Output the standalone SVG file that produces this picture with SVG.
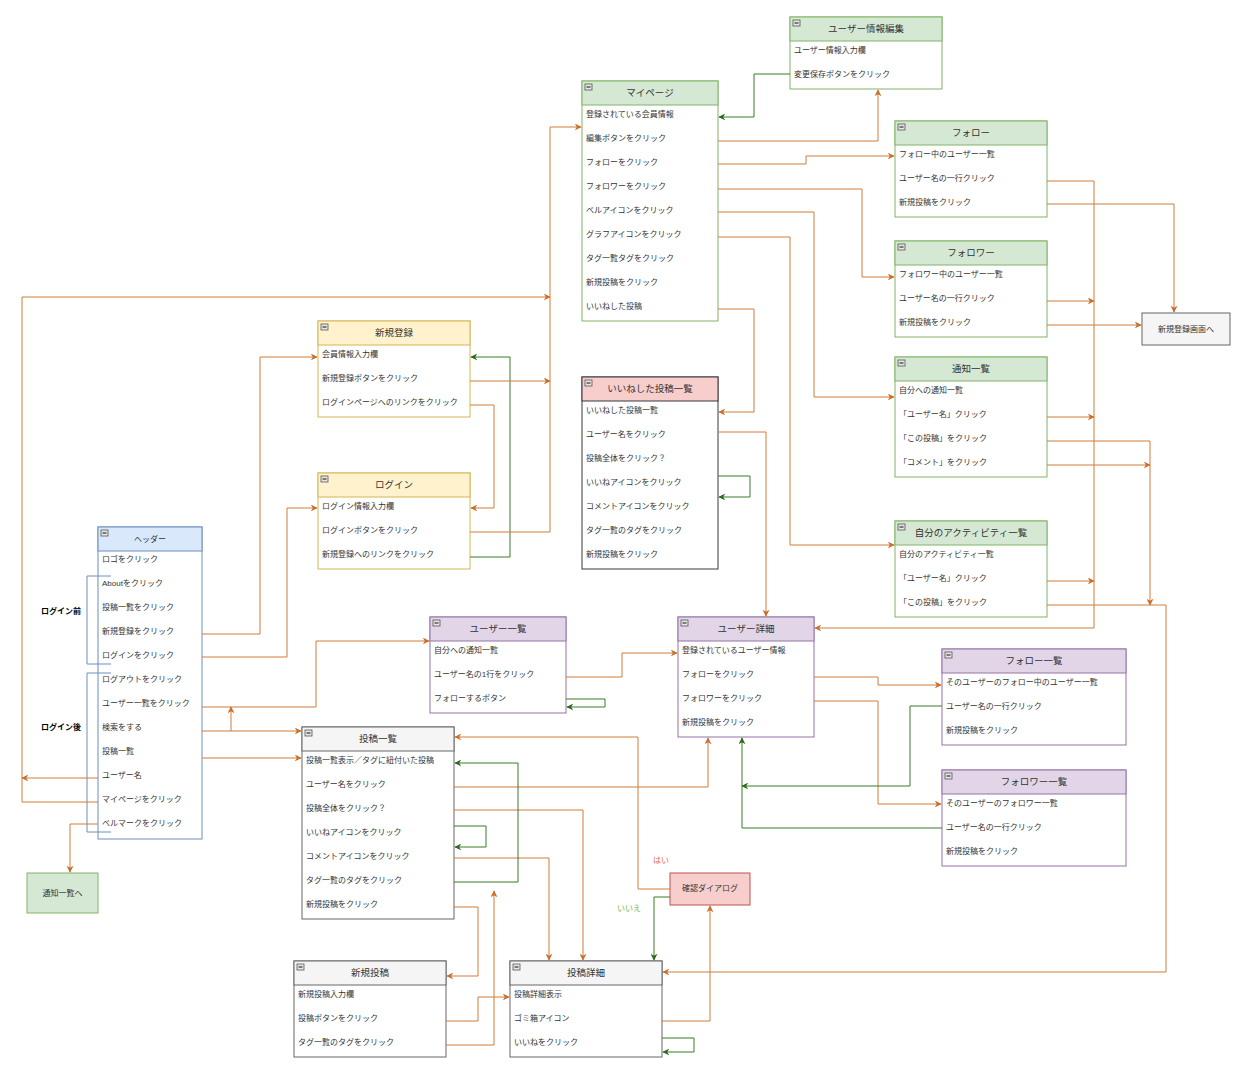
<svg xmlns="http://www.w3.org/2000/svg" width="1246" height="1072" viewBox="0 0 1246 1072">
<style>
text{font-family:"Liberation Sans","Noto Sans CJK JP",sans-serif;fill:#333}
.r{font-size:8px}
.t{font-size:9.5px;text-anchor:middle}
.ts{font-size:8px;text-anchor:middle}
.lbl{font-size:8px;font-weight:bold;fill:#000;text-anchor:middle}
.g{stroke:#82b366}.gh{fill:#d5e8d4;stroke:#82b366}
.y{stroke:#d6b656}.yh{fill:#fff2cc;stroke:#d6b656}
.b{stroke:#6c8ebf}.bh{fill:#dae8fc;stroke:#6c8ebf}
.p{stroke:#9673a6}.ph{fill:#e1d5e7;stroke:#9673a6}
.k{stroke:#666}.kh{fill:#f5f5f5;stroke:#666}
.d{stroke:#36393d}.dh{fill:#f8cecc;stroke:#36393d}
.body{fill:#fff;stroke-width:1}
.ic{fill:#e6e6e6;stroke:#555;stroke-width:0.8}
.icl{stroke:#333;stroke-width:1.2}
#edges path{fill:none;stroke-width:1}
.eo{stroke:#d07d3b;marker-end:url(#ao)}
.eg{stroke:#3b7a26;marker-end:url(#ag)}
</style>
<defs>
<marker id="ao" viewBox="0 0 10 10" refX="9" refY="5" markerWidth="7" markerHeight="7" orient="auto" markerUnits="userSpaceOnUse"><path d="M0,0 L10,5 L0,10 L3,5 z" fill="#cc6f2c"/></marker>
<marker id="ag" viewBox="0 0 10 10" refX="9" refY="5" markerWidth="7" markerHeight="7" orient="auto" markerUnits="userSpaceOnUse"><path d="M0,0 L10,5 L0,10 L3,5 z" fill="#2d6a1f"/></marker>
</defs>
<rect width="1246" height="1072" fill="#fff"/>

<!-- nodes -->
<g id="userEdit">
<rect class="body g" x="790" y="17" width="152" height="72"/>
<rect class="gh" x="790" y="17" width="152" height="24"/>
<rect class="ic" x="793" y="20" width="7" height="6"/><line class="icl" x1="794.5" y1="23" x2="798.5" y2="23"/>
<text class="t" x="866" y="32">ユーザー情報編集</text>
<text class="r" x="794" y="53">ユーザー情報入力欄</text>
<text class="r" x="794" y="77">変更保存ボタンをクリック</text>
</g>

<g id="mypage">
<rect class="body g" x="582" y="81" width="136" height="240"/>
<rect class="gh" x="582" y="81" width="136" height="24"/>
<rect class="ic" x="585" y="84" width="7" height="6"/><line class="icl" x1="586.5" y1="87" x2="590.5" y2="87"/>
<text class="t" x="650" y="96">マイページ</text>
<text class="r" x="586" y="117">登録されている会員情報</text>
<text class="r" x="586" y="141">編集ボタンをクリック</text>
<text class="r" x="586" y="165">フォローをクリック</text>
<text class="r" x="586" y="189">フォロワーをクリック</text>
<text class="r" x="586" y="213">ベルアイコンをクリック</text>
<text class="r" x="586" y="237">グラフアイコンをクリック</text>
<text class="r" x="586" y="261">タグ一覧タグをクリック</text>
<text class="r" x="586" y="285">新規投稿をクリック</text>
<text class="r" x="586" y="309">いいねした投稿</text>
</g>

<g id="follow">
<rect class="body g" x="895" y="121" width="152" height="96"/>
<rect class="gh" x="895" y="121" width="152" height="24"/>
<rect class="ic" x="898" y="124" width="7" height="6"/><line class="icl" x1="899.5" y1="127" x2="903.5" y2="127"/>
<text class="t" x="971" y="136">フォロー</text>
<text class="r" x="899" y="157">フォロー中のユーザー一覧</text>
<text class="r" x="899" y="181">ユーザー名の一行クリック</text>
<text class="r" x="899" y="205">新規投稿をクリック</text>
</g>

<g id="follower">
<rect class="body g" x="895" y="241" width="152" height="96"/>
<rect class="gh" x="895" y="241" width="152" height="24"/>
<rect class="ic" x="898" y="244" width="7" height="6"/><line class="icl" x1="899.5" y1="247" x2="903.5" y2="247"/>
<text class="t" x="971" y="256">フォロワー</text>
<text class="r" x="899" y="277">フォロワー中のユーザー一覧</text>
<text class="r" x="899" y="301">ユーザー名の一行クリック</text>
<text class="r" x="899" y="325">新規投稿をクリック</text>
</g>

<g id="notifList">
<rect class="body g" x="895" y="357" width="152" height="120"/>
<rect class="gh" x="895" y="357" width="152" height="24"/>
<rect class="ic" x="898" y="360" width="7" height="6"/><line class="icl" x1="899.5" y1="363" x2="903.5" y2="363"/>
<text class="t" x="971" y="372">通知一覧</text>
<text class="r" x="899" y="393">自分への通知一覧</text>
<text class="r" x="899" y="417">「ユーザー名」クリック</text>
<text class="r" x="899" y="441">「この投稿」をクリック</text>
<text class="r" x="899" y="465">「コメント」をクリック</text>
</g>

<g id="activity">
<rect class="body g" x="895" y="521" width="152" height="96"/>
<rect class="gh" x="895" y="521" width="152" height="24"/>
<rect class="ic" x="898" y="524" width="7" height="6"/><line class="icl" x1="899.5" y1="527" x2="903.5" y2="527"/>
<text class="t" x="971" y="536">自分のアクティビティ一覧</text>
<text class="r" x="899" y="557">自分のアクティビティ一覧</text>
<text class="r" x="899" y="581">「ユーザー名」クリック</text>
<text class="r" x="899" y="605">「この投稿」をクリック</text>
</g>

<g id="signupScreen">
<rect x="1142" y="313" width="88" height="32" fill="#f5f5f5" stroke="#666"/>
<text class="ts" x="1186" y="332">新規登録画面へ</text>
</g>

<g id="signup">
<rect class="body y" x="318" y="321" width="152" height="96"/>
<rect class="yh" x="318" y="321" width="152" height="24"/>
<rect class="ic" x="321" y="324" width="7" height="6"/><line class="icl" x1="322.5" y1="327" x2="326.5" y2="327"/>
<text class="t" x="394" y="336">新規登録</text>
<text class="r" x="322" y="357">会員情報入力欄</text>
<text class="r" x="322" y="381">新規登録ボタンをクリック</text>
<text class="r" x="322" y="405">ログインページへのリンクをクリック</text>
</g>

<g id="login">
<rect class="body y" x="318" y="473" width="152" height="96"/>
<rect class="yh" x="318" y="473" width="152" height="24"/>
<rect class="ic" x="321" y="476" width="7" height="6"/><line class="icl" x1="322.5" y1="479" x2="326.5" y2="479"/>
<text class="t" x="394" y="488">ログイン</text>
<text class="r" x="322" y="509">ログイン情報入力欄</text>
<text class="r" x="322" y="533">ログインボタンをクリック</text>
<text class="r" x="322" y="557">新規登録へのリンクをクリック</text>
</g>

<g id="header">
<rect class="body b" x="98" y="527" width="104" height="312"/>
<rect class="bh" x="98" y="527" width="104" height="24"/>
<rect class="ic" x="101" y="530" width="7" height="6"/><line class="icl" x1="102.5" y1="533" x2="106.5" y2="533"/>
<text class="ts" x="150" y="542">ヘッダー</text>
<text class="r" x="102" y="562">ロゴをクリック</text>
<text class="r" x="102" y="586">Aboutをクリック</text>
<text class="r" x="102" y="610">投稿一覧をクリック</text>
<text class="r" x="102" y="634">新規登録をクリック</text>
<text class="r" x="102" y="658">ログインをクリック</text>
<text class="r" x="102" y="682">ログアウトをクリック</text>
<text class="r" x="102" y="706">ユーザー一覧をクリック</text>
<text class="r" x="102" y="730">検索をする</text>
<text class="r" x="102" y="754">投稿一覧</text>
<text class="r" x="102" y="778">ユーザー名</text>
<text class="r" x="102" y="802">マイページをクリック</text>
<text class="r" x="102" y="826">ベルマークをクリック</text>
</g>

<g id="beforeLogin">
<path d="M111,576 H87 V664 H111" fill="none" stroke="#6c8ebf"/>
<text class="lbl" x="61" y="614">ログイン前</text>
</g>
<g id="afterLogin">
<path d="M111,673 H87 V832 H111" fill="none" stroke="#6c8ebf"/>
<text class="lbl" x="61" y="730">ログイン後</text>
</g>

<g id="notifTo">
<rect x="27" y="873" width="71" height="40" fill="#d5e8d4" stroke="#82b366"/>
<text class="ts" x="62.5" y="896">通知一覧へ</text>
</g>

<g id="liked">
<rect class="body d" x="582" y="377" width="136" height="192"/>
<rect class="dh" x="582" y="377" width="136" height="24"/>
<rect class="ic" x="585" y="380" width="7" height="6"/><line class="icl" x1="586.5" y1="383" x2="590.5" y2="383"/>
<text class="t" x="650" y="392">いいねした投稿一覧</text>
<text class="r" x="586" y="413">いいねした投稿一覧</text>
<text class="r" x="586" y="437">ユーザー名をクリック</text>
<text class="r" x="586" y="461">投稿全体をクリック？</text>
<text class="r" x="586" y="485">いいねアイコンをクリック</text>
<text class="r" x="586" y="509">コメントアイコンをクリック</text>
<text class="r" x="586" y="533">タグ一覧のタグをクリック</text>
<text class="r" x="586" y="557">新規投稿をクリック</text>
</g>

<g id="userList">
<rect class="body p" x="430" y="617" width="136" height="96"/>
<rect class="ph" x="430" y="617" width="136" height="24"/>
<rect class="ic" x="433" y="620" width="7" height="6"/><line class="icl" x1="434.5" y1="623" x2="438.5" y2="623"/>
<text class="t" x="498" y="632">ユーザー一覧</text>
<text class="r" x="434" y="653">自分への通知一覧</text>
<text class="r" x="434" y="677">ユーザー名の1行をクリック</text>
<text class="r" x="434" y="701">フォローするボタン</text>
</g>

<g id="userDetail">
<rect class="body p" x="678" y="617" width="136" height="120"/>
<rect class="ph" x="678" y="617" width="136" height="24"/>
<rect class="ic" x="681" y="620" width="7" height="6"/><line class="icl" x1="682.5" y1="623" x2="686.5" y2="623"/>
<text class="t" x="746" y="632">ユーザー詳細</text>
<text class="r" x="682" y="653">登録されているユーザー情報</text>
<text class="r" x="682" y="677">フォローをクリック</text>
<text class="r" x="682" y="701">フォロワーをクリック</text>
<text class="r" x="682" y="725">新規投稿をクリック</text>
</g>

<g id="followList">
<rect class="body p" x="942" y="649" width="184" height="96"/>
<rect class="ph" x="942" y="649" width="184" height="24"/>
<rect class="ic" x="945" y="652" width="7" height="6"/><line class="icl" x1="946.5" y1="655" x2="950.5" y2="655"/>
<text class="t" x="1034" y="664">フォロー一覧</text>
<text class="r" x="946" y="685">そのユーザーのフォロー中のユーザー一覧</text>
<text class="r" x="946" y="709">ユーザー名の一行クリック</text>
<text class="r" x="946" y="733">新規投稿をクリック</text>
</g>

<g id="followerList">
<rect class="body p" x="942" y="770" width="184" height="96"/>
<rect class="ph" x="942" y="770" width="184" height="24"/>
<rect class="ic" x="945" y="773" width="7" height="6"/><line class="icl" x1="946.5" y1="776" x2="950.5" y2="776"/>
<text class="t" x="1034" y="785">フォロワー一覧</text>
<text class="r" x="946" y="806">そのユーザーのフォロワー一覧</text>
<text class="r" x="946" y="830">ユーザー名の一行クリック</text>
<text class="r" x="946" y="854">新規投稿をクリック</text>
</g>

<g id="posts">
<rect class="body k" x="302" y="727" width="152" height="192"/>
<rect class="kh" x="302" y="727" width="152" height="24"/>
<rect class="ic" x="305" y="730" width="7" height="6"/><line class="icl" x1="306.5" y1="733" x2="310.5" y2="733"/>
<text class="t" x="378" y="742">投稿一覧</text>
<text class="r" x="306" y="763">投稿一覧表示／タグに紐付いた投稿</text>
<text class="r" x="306" y="787">ユーザー名をクリック</text>
<text class="r" x="306" y="811">投稿全体をクリック？</text>
<text class="r" x="306" y="835">いいねアイコンをクリック</text>
<text class="r" x="306" y="859">コメントアイコンをクリック</text>
<text class="r" x="306" y="883">タグ一覧のタグをクリック</text>
<text class="r" x="306" y="907">新規投稿をクリック</text>
</g>

<g id="newPost">
<rect class="body k" x="294" y="961" width="152" height="96"/>
<rect class="kh" x="294" y="961" width="152" height="24"/>
<rect class="ic" x="297" y="964" width="7" height="6"/><line class="icl" x1="298.5" y1="967" x2="302.5" y2="967"/>
<text class="t" x="370" y="976">新規投稿</text>
<text class="r" x="298" y="997">新規投稿入力欄</text>
<text class="r" x="298" y="1021">投稿ボタンをクリック</text>
<text class="r" x="298" y="1045">タグ一覧のタグをクリック</text>
</g>

<g id="postDetail">
<rect class="body k" x="510" y="961" width="152" height="96"/>
<rect class="kh" x="510" y="961" width="152" height="24"/>
<rect class="ic" x="513" y="964" width="7" height="6"/><line class="icl" x1="514.5" y1="967" x2="518.5" y2="967"/>
<text class="t" x="586" y="976">投稿詳細</text>
<text class="r" x="514" y="997">投稿詳細表示</text>
<text class="r" x="514" y="1021">ゴミ箱アイコン</text>
<text class="r" x="514" y="1045">いいねをクリック</text>
</g>

<g id="dialog">
<rect x="670" y="873" width="80" height="32" fill="#f8cecc" stroke="#b85450"/>
<text class="ts" x="710" y="891">確認ダイアログ</text>
</g>

<g id="edges">
<path class="eg" d="M790,74 H754 V117 H719"/>
<path class="eo" d="M718,141 H878 V90"/>
<path class="eo" d="M718,164 H806 V156 H894"/>
<path class="eo" d="M718,189 H862 V277 H894"/>
<path class="eo" d="M718,212 H814 V397 H894"/>
<path class="eo" d="M718,237 H790 V545 H894"/>
<path class="eo" d="M718,309 H754 V412 H719"/>
<path class="eo" d="M1047,181 H1094 V628 H815"/>
<path class="eo" d="M1047,204 H1174 V312"/>
<path class="eo" d="M1047,301 H1094"/>
<path class="eo" d="M1047,325 H1141"/>
<path class="eo" d="M1047,417 H1094"/>
<path class="eo" d="M1047,441 H1150 V605"/>
<path class="eo" d="M1047,465 H1150"/>
<path class="eo" d="M1047,581 H1094"/>
<path class="eo" d="M1047,605 H1166 V972 H663"/>
<path class="eo" d="M202,634 H260 V357 H317"/>
<path class="eo" d="M202,657 H287 V508 H317"/>
<path class="eg" d="M470,557 H510 V357 H471"/>
<path class="eo" d="M470,381 H550"/>
<path class="eo" d="M470,405 H494 V508 H471"/>
<path class="eo" d="M470,532 H550 V127 H581"/>
<path class="eo" d="M98,802 H22 V297 H550"/>
<path class="eo" d="M98,778 H22"/>
<path class="eo" d="M98,824 H70 V872"/>
<path class="eo" d="M202,707 H316 V641 H429"/>
<path class="eo" d="M202,731 H301"/>
<path class="eo" d="M231,731 V707"/>
<path class="eo" d="M202,758 H301"/>
<path class="eo" d="M718,432 H766 V616"/>
<path class="eg" d="M718,476 H750 V497 H719"/>
<path class="eo" d="M566,677 H622 V653 H677"/>
<path class="eg" d="M566,699 H605 V707 H567"/>
<path class="eo" d="M814,677 H878 V685 H941"/>
<path class="eo" d="M814,701 H878 V804 H941"/>
<path class="eg" d="M942,706 H910 V786 H742"/>
<path class="eg" d="M942,828 H742 V738"/>
<path class="eo" d="M454,787 H708 V738"/>
<path class="eo" d="M454,810 H583 V960"/>
<path class="eo" d="M454,858 H549 V960"/>
<path class="eg" d="M454,882 H518 V763 H455"/>
<path class="eg" d="M454,826 H486 V847 H455"/>
<path class="eo" d="M454,907 H478 V976 H447"/>
<path class="eo" d="M446,1045 H494 V891"/>
<path class="eo" d="M446,1021 H478 V997 H509"/>
<path class="eo" d="M662,1021 H710 V906"/>
<path class="eg" d="M662,1038 H694 V1052 H663"/>
<path class="eo" d="M670,889 H638 V737 H455"/>
<path class="eg" d="M670,897 H654 V960"/>
<text x="661" y="863" font-size="8" fill="#ea6b66" text-anchor="middle" style="fill:#ea6b66">はい</text>
<text x="629" y="911" font-size="8" fill="#7ab648" text-anchor="middle" style="fill:#7ab648">いいえ</text>
</g>
</svg>
